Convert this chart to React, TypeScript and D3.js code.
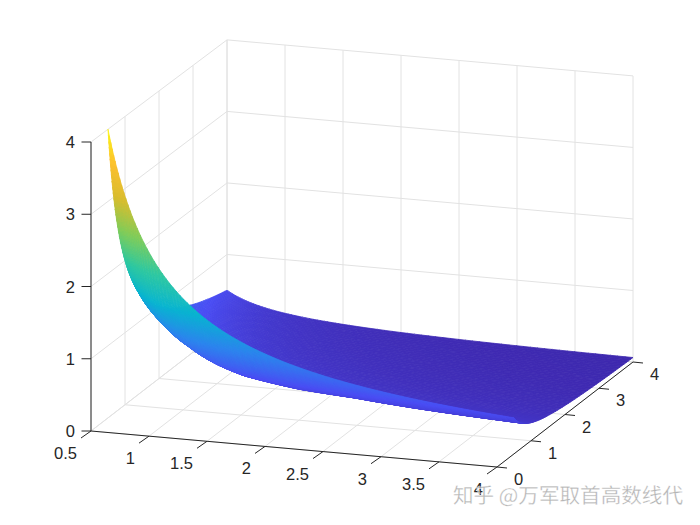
import React from "react";
import * as d3 from "d3";

const xTicks = [0.5, 1, 1.5, 2, 2.5, 3, 3.5, 4];
const xTickLabels = ["0.5", "1", "1.5", "2", "2.5", "3", "3.5", "4"];
const yTicks = [0, 1, 2, 3, 4];
const zTicks = [0, 1, 2, 3, 4];

const gridX = [0.5, 0.6, 0.75, 1, 1.25, 1.5, 2, 2.5, 3, 3.5, 4];
const gridY = [0.5, 0.6, 0.75, 1, 1.25, 1.5, 2, 2.5, 3, 3.5, 4];
const gridZ = [
  [4.0, 3.333, 2.667, 2.0, 1.6, 1.333, 1.0, 0.8, 0.667, 0.571, 0.5],
  [3.333, 2.778, 2.222, 1.667, 1.333, 1.111, 0.833, 0.667, 0.556, 0.476, 0.417],
  [2.667, 2.222, 1.778, 1.333, 1.067, 0.889, 0.667, 0.533, 0.444, 0.381, 0.333],
  [2.0, 1.667, 1.3, 0.96, 0.76, 0.64, 0.49, 0.4, 0.333, 0.286, 0.25],
  [1.6, 1.333, 1.03, 0.72, 0.555, 0.47, 0.37, 0.31, 0.262, 0.229, 0.2],
  [1.333, 1.111, 0.84, 0.565, 0.44, 0.38, 0.31, 0.255, 0.218, 0.19, 0.167],
  [1.0, 0.833, 0.62, 0.43, 0.34, 0.295, 0.235, 0.195, 0.165, 0.143, 0.125],
  [0.8, 0.667, 0.51, 0.375, 0.295, 0.25, 0.19, 0.156, 0.133, 0.114, 0.1],
  [0.667, 0.556, 0.43, 0.315, 0.25, 0.21, 0.16, 0.13, 0.111, 0.095, 0.083],
  [0.571, 0.476, 0.375, 0.275, 0.222, 0.187, 0.143, 0.114, 0.095, 0.082, 0.071],
  [0.5, 0.417, 0.333, 0.25, 0.2, 0.167, 0.125, 0.1, 0.083, 0.071, 0.0625],
];

const parulaStops = [
  "#3e28ae", "#4a4df4", "#2c85ee", "#08b5d0", "#2ec8a0",
  "#80cc59", "#d8bd2e", "#fcc02f", "#f9fb15",
];
const colorDomain = [0.0625, 4];
const watermark = "知乎 @万军取首高数线代";

const W = 700;
const H = 525;
const X0 = 91;
const Y0 = 431;

const xPx = d3.scaleLinear().domain([0.5, 4]).range([0, 406]);
const xPy = d3.scaleLinear().domain([0.5, 4]).range([0, 36]);
const yPx = d3.scaleLinear().domain([0, 4]).range([0, 136]);
const yPy = d3.scaleLinear().domain([0, 4]).range([0, -105]);
const zPy = d3.scaleLinear().domain([0, 4]).range([0, -289]);
const depthShrink = d3.scaleLinear().domain([0, 4]).range([1, 0.99]);

type P = [number, number];
const project = (x: number, y: number, z: number): P => [
  X0 + xPx(x) + yPx(y),
  Y0 + xPy(x) + yPy(y) + zPy(z) * depthShrink(y),
];

const color = d3
  .scaleLinear<string>()
  .domain(parulaStops.map((_, i) => colorDomain[0] + ((colorDomain[1] - colorDomain[0]) * i) / (parulaStops.length - 1)))
  .range(parulaStops)
  .clamp(true);

const line = d3.line<P>();
const SUB = 8;

// Smooth rendering of the read grid: each cell is refined on log axes.
function refine(vals: number[]) {
  const out: { v: number; i: number; t: number }[] = [];
  for (let i = 0; i < vals.length - 1; i++) {
    for (let s = 0; s < SUB; s++) {
      const t = s / SUB;
      out.push({ v: Math.exp(Math.log(vals[i]) * (1 - t) + Math.log(vals[i + 1]) * t), i, t });
    }
  }
  out.push({ v: vals[vals.length - 1], i: vals.length - 2, t: 1 });
  return out;
}

function zAt(a: { i: number; t: number }, b: { i: number; t: number }) {
  const l = (r: number, c: number) => Math.log(gridZ[r][c]);
  const v =
    l(a.i, b.i) * (1 - a.t) * (1 - b.t) +
    l(a.i + 1, b.i) * a.t * (1 - b.t) +
    l(a.i, b.i + 1) * (1 - a.t) * b.t +
    l(a.i + 1, b.i + 1) * a.t * b.t;
  return Math.exp(v);
}

function buildCells() {
  const xs = refine(gridX);
  const ys = refine(gridY);
  const Z = xs.map((a) => ys.map((b) => zAt(a, b)));
  const cells: { d: string; fill: string }[] = [];
  // back-to-front: far y first, low x (far) first
  for (let j = ys.length - 2; j >= 0; j--) {
    for (let i = 0; i < xs.length - 1; i++) {
      const pts: P[] = [
        project(xs[i].v, ys[j].v, Z[i][j]),
        project(xs[i + 1].v, ys[j].v, Z[i + 1][j]),
        project(xs[i + 1].v, ys[j + 1].v, Z[i + 1][j + 1]),
        project(xs[i].v, ys[j + 1].v, Z[i][j + 1]),
      ];
      const mean = (Z[i][j] + Z[i + 1][j] + Z[i + 1][j + 1] + Z[i][j + 1]) / 4;
      cells.push({ d: line(pts)! + "Z", fill: color(mean) });
    }
  }
  return cells;
}

const gridColor = "#e2e2e2";
const axisColor = "#262626";
const font = "'Liberation Sans', Arial, sans-serif";

export default function App() {
  const cells = React.useMemo(buildCells, []);
  const seg = (a: P, b: P) => line([a, b])!;
  const gridPaths: string[] = [];
  xTicks.forEach((x) => {
    gridPaths.push(seg(project(x, 0, 0), project(x, 4, 0)));
    gridPaths.push(seg(project(x, 4, 0), project(x, 4, 4)));
  });
  yTicks.forEach((y) => {
    gridPaths.push(seg(project(0.5, y, 0), project(4, y, 0)));
    gridPaths.push(seg(project(0.5, y, 0), project(0.5, y, 4)));
  });
  zTicks.forEach((z) => {
    gridPaths.push(seg(project(0.5, 0, z), project(0.5, 4, z)));
    gridPaths.push(seg(project(0.5, 4, z), project(4, 4, z)));
  });

  return (
    <svg
      width={W}
      height={H}
      viewBox={`0 0 ${W} ${H}`}
      style={{ position: "fixed", left: 0, top: 0, background: "#fff" }}
    >
      <g fill="none" stroke={gridColor} strokeWidth={1}>
        {gridPaths.map((d, i) => (
          <path key={i} d={d} />
        ))}
      </g>
      <g strokeWidth={0.8} strokeLinejoin="round">
        {cells.map((c, i) => (
          <path key={i} d={c.d} fill={c.fill} stroke={c.fill} />
        ))}
      </g>
      <g fill="none" stroke={axisColor} strokeWidth={1}>
        <path d={seg(project(0.5, 0, 0), project(0.5, 0, 4))} />
        <path d={seg(project(0.5, 0, 0), project(4, 0, 0))} />
        <path d={seg(project(4, 0, 0), project(4, 4, 0))} />
        {zTicks.map((z) => {
          const p = project(0.5, 0, z);
          return <path key={z} d={seg(p, [p[0] - 9.5, p[1]])} />;
        })}
        {xTicks.map((x) => {
          const p = project(x, 0, 0);
          return <path key={x} d={seg(p, [p[0] - 10, p[1] + 7])} />;
        })}
        {yTicks.map((y) => {
          const p = project(4, y, 0);
          return <path key={y} d={seg(p, [p[0] + 10, p[1] + 1])} />;
        })}
      </g>
      <g fontFamily={font} fontSize={16.5} fill={axisColor}>
        {zTicks.map((z) => {
          const p = project(0.5, 0, z);
          return (
            <text key={z} x={p[0] - 16} y={p[1] + 6} textAnchor="end">
              {z}
            </text>
          );
        })}
        {xTicks.map((x, i) => {
          const p = project(x, 0, 0);
          return (
            <text key={x} x={p[0] - 14} y={p[1] + 28} textAnchor="end">
              {xTickLabels[i]}
            </text>
          );
        })}
        {yTicks.map((y) => {
          const p = project(4, y, 0);
          return (
            <text key={y} x={p[0] + 17} y={p[1] + 18} textAnchor="start">
              {y}
            </text>
          );
        })}
      </g>
      <text
        x={453}
        y={503}
        fontFamily="'Noto Sans CJK SC', sans-serif"
        fontSize={20.6}
        fill="#a8a8a8"
        fillOpacity={0.85}
        stroke="#ffffff"
        strokeWidth={0.3}
      >
        {watermark}
      </text>
    </svg>
  );
}
